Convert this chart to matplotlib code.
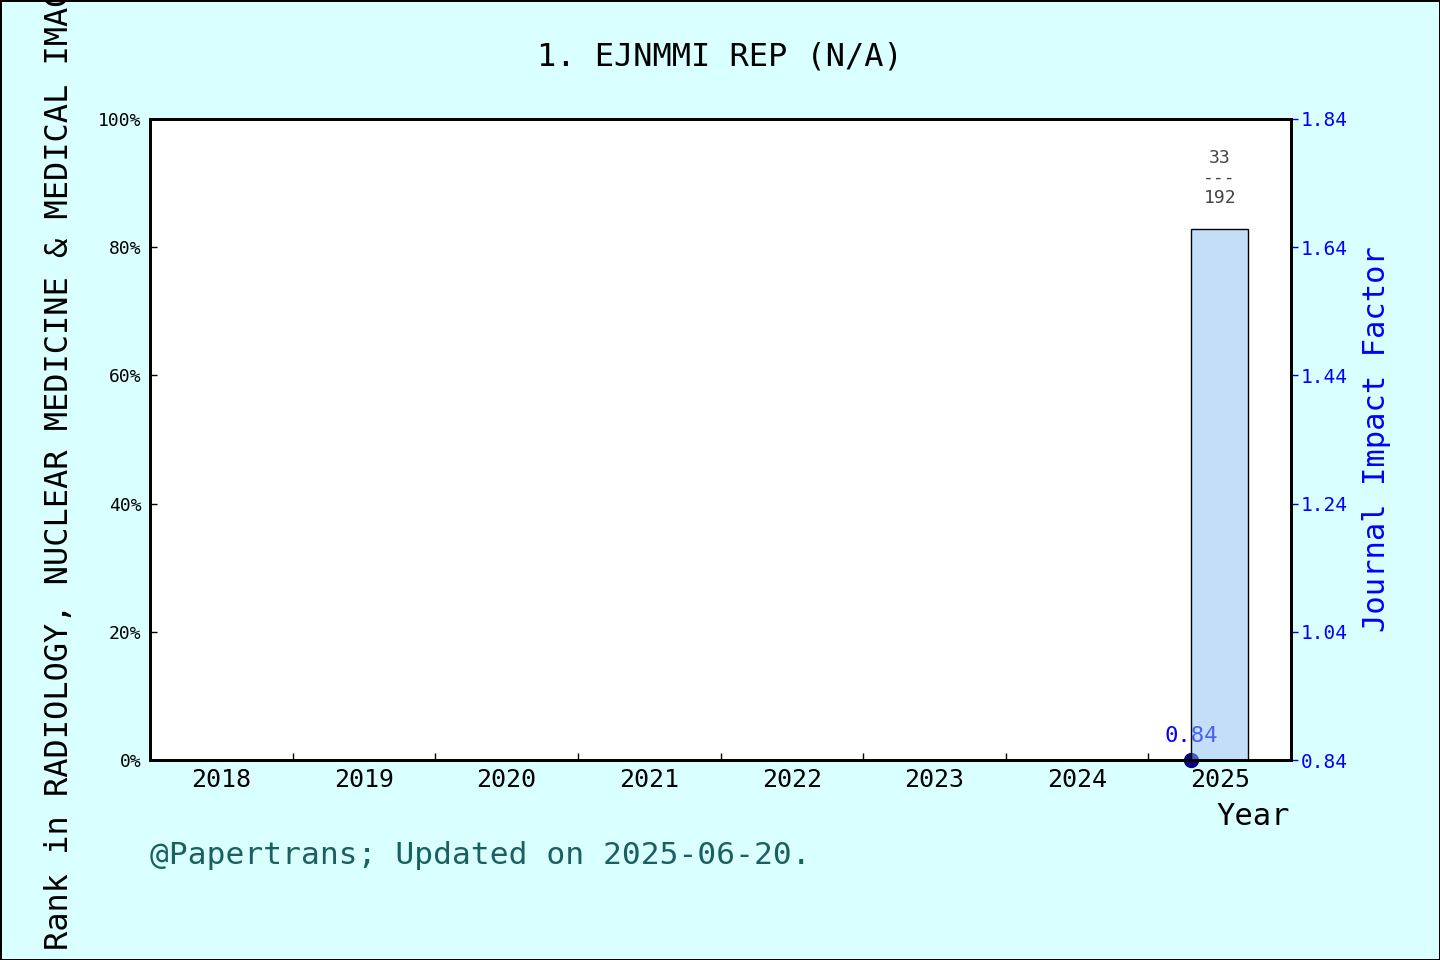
import matplotlib
matplotlib.use("Agg")
import matplotlib.pyplot as plt
import numpy as np

plt.rcParams['font.family'] = ['DejaVu Sans Mono', 'DejaVu Sans']

journal = "1. EJNMMI REP (N/A)"
category = "RADIOLOGY, NUCLEAR MEDICINE & MEDICAL IMAGING"
years = [2018, 2019, 2020, 2021, 2022, 2023, 2024, 2025]
rank_pct = [np.nan, np.nan, np.nan, np.nan, np.nan, np.nan, np.nan, 82.8]
rank_txt = ["", "", "", "", "", "", "", "33\n---\n192"]
jif = [np.nan, np.nan, np.nan, np.nan, np.nan, np.nan, np.nan, 0.84]
jif_ticks = [0.84, 1.04, 1.24, 1.44, 1.64, 1.84]
pct_ticks = [0, 20, 40, 60, 80, 100]

fig = plt.figure(figsize=(14.4, 9.6), dpi=100, facecolor='#d9ffff')
fig.patch.set_edgecolor('black')
fig.patch.set_linewidth(2)

ax = fig.add_axes([150/1440, 1-760/960, 1141/1440, 641/960])
ax2 = ax.twinx()
# bars sit on top of the impact factor layer
ax.set_zorder(ax2.get_zorder() + 1)
ax.patch.set_visible(False)
ax2.patch.set_visible(True)
ax2.patch.set_facecolor('white')

x = np.array(years, dtype=float)

# percentile bars
ax.bar(x, rank_pct, width=0.4, color=(0.55, 0.75, 0.95, 0.5),
       edgecolor='black', linewidth=1)
for xi, p, t in zip(x, rank_pct, rank_txt):
    if not np.isnan(p):
        ax.text(xi, 90.8, t, ha='center', va='center', fontsize=13,
                color='#444444', linespacing=1.15)

# impact factor points
ax2.plot(x - 0.2, jif, 'o', color='#000080', markersize=10, clip_on=False)
for xi, v in zip(x, jif):
    if not np.isnan(v):
        ax2.text(xi - 0.2, v + 0.038, "%.2f" % v, ha='center', va='center',
                 fontsize=16, color='blue')

ax.set_xlim(2017.5, 2025.5)
ax.set_ylim(0, 100)
ax2.set_ylim(0.84, 1.84)

ax.set_xticks(years)
ax.set_xticklabels([str(y) for y in years], fontsize=18)
ax.set_xticks([y + 0.5 for y in years[:-1]], minor=True)
ax.tick_params(axis='x', which='major', length=0, pad=6)
ax.tick_params(axis='x', which='minor', direction='in', length=5, width=1)

ax.set_yticks(pct_ticks)
ax.set_yticklabels(["%d%%" % p for p in pct_ticks], fontsize=13)
ax.tick_params(axis='y', direction='in', length=5, width=1, pad=6)

ax2.set_yticks(jif_ticks)
ax2.set_yticklabels(["%.2f" % v for v in jif_ticks], fontsize=14, color='blue')
ax2.tick_params(axis='y', direction='out', length=5, width=1, colors='blue', pad=2)

for a in (ax, ax2):
    for s in a.spines.values():
        s.set_linewidth(2)

ax.set_ylabel("Rank in " + category, fontsize=23)
ax.yaxis.set_label_coords(-0.066, 0.5)
ax2.set_ylabel("Journal Impact Factor", fontsize=22, color='blue')
ax2.yaxis.set_label_coords(1.062, 0.5)
ax.set_xlabel("Year", fontsize=22)
ax.xaxis.set_label_coords(0.967, -0.066)

fig.text(0.5, 1 - 57/960, journal, ha='center', va='center', fontsize=23)
fig.text(150/1440, 1 - 855/960, "@Papertrans; Updated on 2025-06-20.",
         ha='left', va='center', fontsize=22.5, color='#1a6060')

fig.savefig("out.png", dpi=100, facecolor=fig.get_facecolor(),
            edgecolor=fig.get_edgecolor())
